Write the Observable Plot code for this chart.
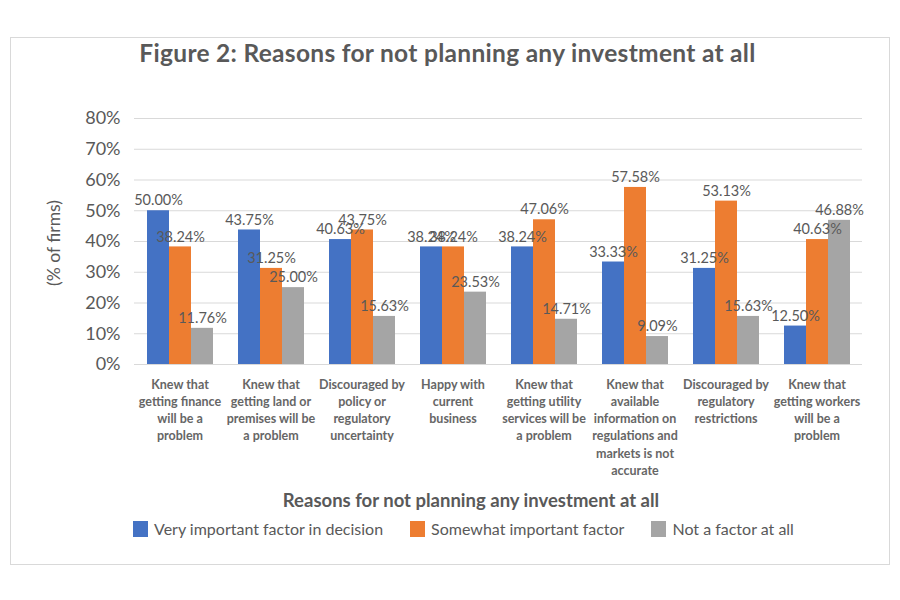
<!DOCTYPE html>
<html><head><meta charset="utf-8">
<script src="https://cdn.jsdelivr.net/npm/d3@7"></script>
<script src="https://cdn.jsdelivr.net/npm/@observablehq/plot@0.6"></script>
<style>
body{margin:0;background:#fff;font-family:Lato,sans-serif;}
#wrap{position:relative;width:900px;height:600px;overflow:hidden;background:#fff;}
#frame{position:absolute;left:10px;top:37px;width:880px;height:528px;border:1px solid #d9d9d9;box-sizing:border-box;}
#title{position:absolute;left:0;width:895px;top:38px;text-align:center;font-weight:700;font-size:24.5px;letter-spacing:0.3px;color:#595959;line-height:30px;}
#chart{position:absolute;left:0;top:0;}
#ylabel{position:absolute;left:53px;top:243px;transform:translate(-50%,-50%) rotate(-90deg);font-size:17.5px;color:#595959;white-space:nowrap;}
#xtitle{position:absolute;left:0;width:942px;top:488px;text-align:center;font-weight:700;font-size:18.5px;color:#595959;line-height:24px;}
#legend{position:absolute;left:133px;top:519px;display:flex;align-items:center;gap:27px;font-size:16px;color:#595959;}
.item{display:flex;align-items:center;}
.sw{width:15px;height:16px;margin-right:6px;}
</style></head><body>
<div id="wrap">
 <div id="frame"></div>
 <div id="title">Figure 2: Reasons for not planning any investment at all</div>
 <div id="chart"></div>
 <div id="ylabel">(% of firms)</div>
 <div id="xtitle">Reasons for not planning any investment at all</div>
 <div id="legend"></div>
</div>
<script>
const categories = [
  "Knew that getting finance will be a problem",
  "Knew that getting land or premises will be a problem",
  "Discouraged by policy or regulatory uncertainty",
  "Happy with current business",
  "Knew that getting utility services will be a problem",
  "Knew that available information on regulations and markets is not accurate",
  "Discouraged by regulatory restrictions",
  "Knew that getting workers will be a problem"
];
const tickLabels = [
  "Knew that\ngetting finance\nwill be a\nproblem",
  "Knew that\ngetting land or\npremises will be\na problem",
  "Discouraged by\npolicy or\nregulatory\nuncertainty",
  "Happy with\ncurrent\nbusiness",
  "Knew that\ngetting utility\nservices will be\na problem",
  "Knew that\navailable\ninformation on\nregulations and\nmarkets is not\naccurate",
  "Discouraged by\nregulatory\nrestrictions",
  "Knew that\ngetting workers\nwill be a\nproblem"
];
const series = ["Very important factor in decision", "Somewhat important factor", "Not a factor at all"];
const veryImportant = [50.00, 43.75, 40.63, 38.24, 38.24, 33.33, 31.25, 12.50];
const somewhatImportant = [38.24, 31.25, 43.75, 38.24, 47.06, 57.58, 53.13, 40.63];
const notAFactor = [11.76, 25.00, 15.63, 23.53, 14.71, 9.09, 15.63, 46.88];
const colors = ["#4472C4", "#ED7D31", "#A5A5A5"];
const yTicks = [0, 10, 20, 30, 40, 50, 60, 70, 80];

const seriesValues = [veryImportant, somewhatImportant, notAFactor];
const rows = categories.flatMap((c, i) => seriesValues.map((arr, j) => ({category: c, series: series[j], value: arr[i]})));

const chart = Plot.plot({
  width: 900, height: 480,
  marginTop: 118, marginBottom: 116, marginLeft: 131, marginRight: 36,
  style: {fontFamily: "Lato, sans-serif", background: "transparent", overflow: "visible"},
  fx: {domain: categories, padding: 0, label: null},
  x: {domain: series, paddingInner: 0, paddingOuter: 0.52, axis: null},
  y: {domain: [0, 80], label: null},
  color: {domain: series, range: colors},
  marks: [
    Plot.gridY(yTicks, {stroke: "#d9d9d9", strokeOpacity: 1, strokeWidth: 1.2}),
    Plot.axisY(yTicks, {tickSize: 0, tickPadding: 14, fontSize: 18, fill: "#595959", label: null, tickFormat: d => d + "%"}),
    Plot.axisFx({anchor: "bottom", tickSize: 0, tickPadding: 12, fontSize: 12.5, fontWeight: "bold", lineHeight: 1.38, fill: "#666", label: null,
      tickFormat: d => tickLabels[categories.indexOf(d)]}),
    Plot.barY(rows, {fx: "category", x: "series", y: "value", fill: "series"}),
    Plot.text(rows, {fx: "category", x: "series", y: "value", text: d => d.value.toFixed(2) + "%", dy: -10, fontSize: 14.5, fill: "#595959"})
  ]
});
document.getElementById("chart").appendChild(chart);

const legend = document.getElementById("legend");
series.forEach((s, i) => {
  const it = document.createElement("div");
  it.className = "item";
  const sw = document.createElement("div");
  sw.className = "sw";
  sw.style.background = colors[i];
  const t = document.createElement("span");
  t.textContent = s;
  it.appendChild(sw); it.appendChild(t);
  legend.appendChild(it);
});
</script>
</body></html>
